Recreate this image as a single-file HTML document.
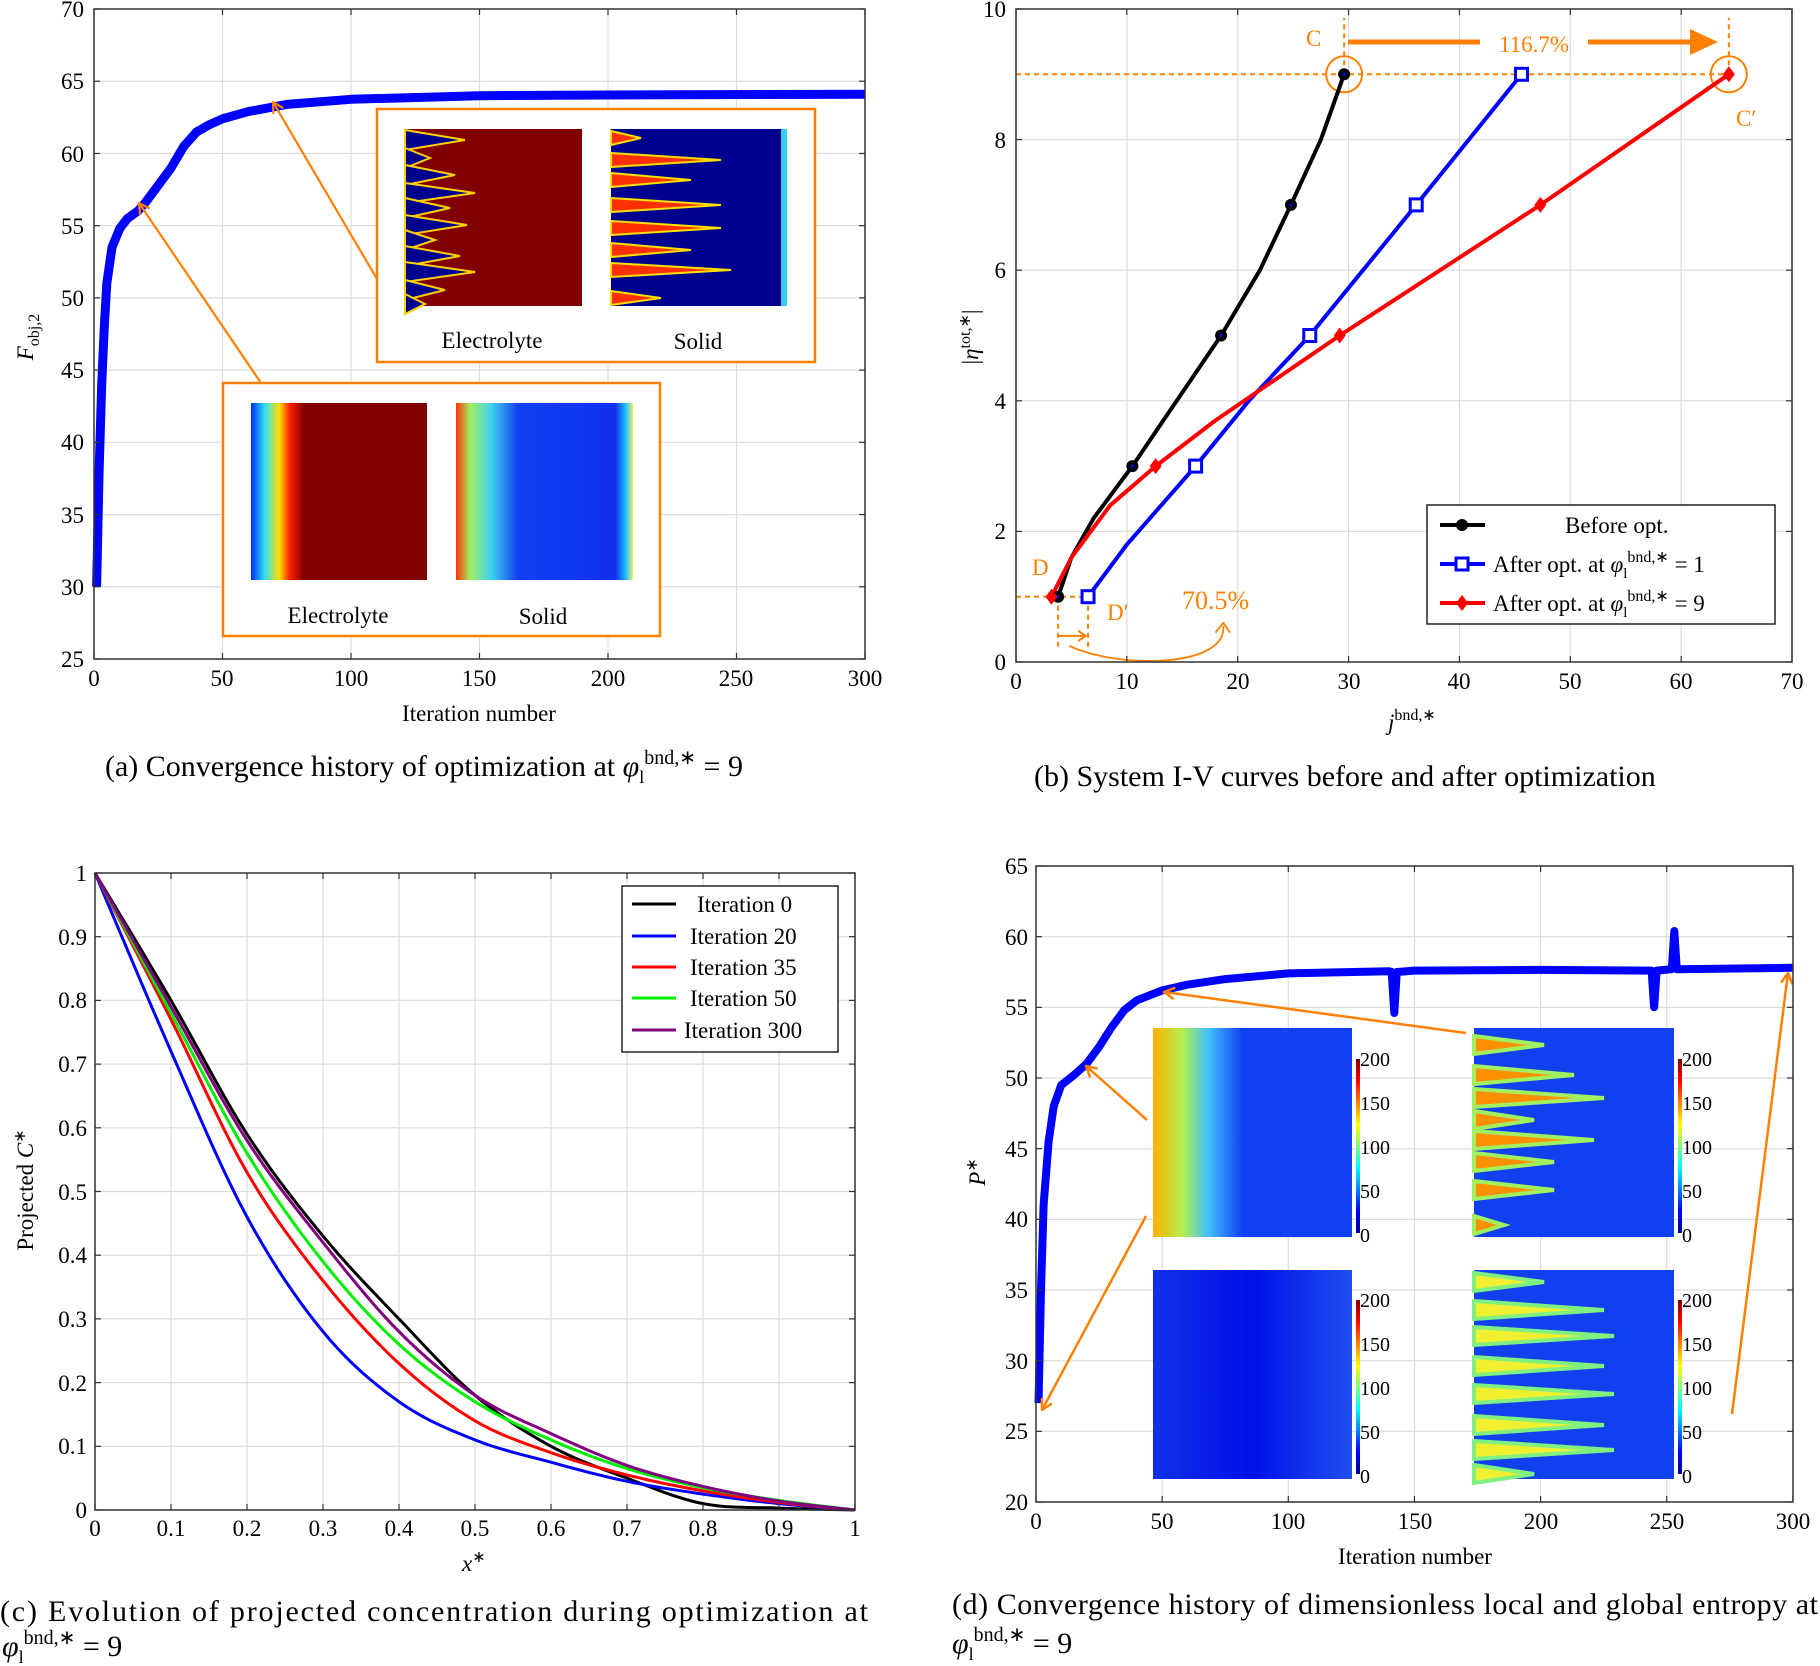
<!DOCTYPE html>
<html><head><meta charset="utf-8"><style>
html,body{margin:0;padding:0;background:#fff;}
svg{display:block;}
text{font-family:"Liberation Serif",serif;fill:#000;}
.t{font-size:23px;}
.cb{font-family:"Liberation Sans",sans-serif;font-size:20px;}
.cap{font-size:30px;}
.or text{fill:#ff8000;}
</style></head><body>
<svg id="s" width="1820" height="1666" viewBox="0 0 1820 1666" xmlns="http://www.w3.org/2000/svg">
<defs>
<linearGradient id="jet" x1="0" y1="1" x2="0" y2="0">
<stop offset="0" stop-color="#00008f"/><stop offset="0.125" stop-color="#0000ff"/><stop offset="0.375" stop-color="#00ffff"/><stop offset="0.625" stop-color="#ffff00"/><stop offset="0.875" stop-color="#ff0000"/><stop offset="1" stop-color="#800000"/>
</linearGradient>
<linearGradient id="solidL" x1="0" y1="0" x2="1" y2="0">
<stop offset="0" stop-color="#ff3000"/><stop offset="0.08" stop-color="#a0f060"/><stop offset="0.2" stop-color="#40d0f0"/><stop offset="0.35" stop-color="#1040f0"/><stop offset="0.9" stop-color="#1030f0"/><stop offset="0.96" stop-color="#20c0ff"/><stop offset="1" stop-color="#f0f060"/>
</linearGradient>
<linearGradient id="entL" x1="0" y1="0" x2="1" y2="0">
<stop offset="0" stop-color="#ffb000"/><stop offset="0.15" stop-color="#b0f050"/><stop offset="0.28" stop-color="#40c0ff"/><stop offset="0.45" stop-color="#1040f0"/><stop offset="1" stop-color="#1040f0"/>
</linearGradient>
<linearGradient id="ent0" x1="0" y1="0" x2="1" y2="0">
<stop offset="0" stop-color="#1030e8"/><stop offset="0.5" stop-color="#0010e8"/><stop offset="1" stop-color="#2050f0"/>
</linearGradient>
<linearGradient id="elL" x1="0" y1="0" x2="1" y2="0">
<stop offset="0" stop-color="#0030ff"/><stop offset="0.08" stop-color="#30e0f0"/><stop offset="0.16" stop-color="#ffe000"/><stop offset="0.22" stop-color="#ff2000"/><stop offset="0.3" stop-color="#800000"/>
</linearGradient>
</defs>
<g id="g"></g>

<!-- Panel a texts -->
<g class="t" text-anchor="end">
<text x="84" y="667">25</text><text x="84" y="595">30</text><text x="84" y="523">35</text><text x="84" y="450">40</text><text x="84" y="378">45</text><text x="84" y="306">50</text><text x="84" y="234">55</text><text x="84" y="162">60</text><text x="84" y="89">65</text><text x="84" y="17">70</text>
</g>
<g class="t" text-anchor="middle">
<text x="94" y="686">0</text><text x="222" y="686">50</text><text x="351" y="686">100</text><text x="479" y="686">150</text><text x="608" y="686">200</text><text x="736" y="686">250</text><text x="865" y="686">300</text>
<text x="479" y="721">Iteration number</text>
<text x="492" y="348">Electrolyte</text><text x="698" y="349">Solid</text>
<text x="338" y="623">Electrolyte</text><text x="543" y="624">Solid</text>
</g>
<text class="t" transform="translate(33,337) rotate(-90)" text-anchor="middle" font-style="italic">F<tspan font-style="normal" font-size="16" dy="6">obj,2</tspan></text>
<text class="cap" x="105" y="776">(a) Convergence history of optimization at <tspan font-style="italic">φ</tspan><tspan font-size="18" dy="7">l</tspan><tspan font-size="20" dy="-19">bnd,∗</tspan><tspan dy="12"> = 9</tspan></text>

<!-- Panel b texts -->
<g class="t" text-anchor="end">
<text x="1006" y="670">0</text><text x="1006" y="539">2</text><text x="1006" y="409">4</text><text x="1006" y="278">6</text><text x="1006" y="148">8</text><text x="1006" y="17">10</text>
</g>
<g class="t" text-anchor="middle">
<text x="1016" y="689">0</text><text x="1127" y="689">10</text><text x="1238" y="689">20</text><text x="1349" y="689">30</text><text x="1459" y="689">40</text><text x="1570" y="689">50</text><text x="1681" y="689">60</text><text x="1792" y="689">70</text>
</g>
<text class="t" x="1388" y="730" font-style="italic">j<tspan font-style="normal" font-size="16" dy="-10">bnd,∗</tspan></text>
<text class="t" transform="translate(978,337) rotate(-90)" text-anchor="middle">|<tspan font-style="italic">η</tspan><tspan font-size="16" dy="-8">tot,∗</tspan><tspan dy="8">|</tspan></text>
<text class="cap" x="1034" y="786">(b) System I-V curves before and after optimization</text>
<g class="t or" font-size="28">
<text x="1306" y="46">C</text><text x="1736" y="126">C′</text><text x="1032" y="575">D</text><text x="1107" y="620">D′</text>
<text x="1182" y="609" font-size="26">70.5%</text><text x="1534" y="52" text-anchor="middle">116.7%</text>
</g>
<g class="t">
<text x="1565" y="533">Before opt.</text>
<text x="1493" y="572">After opt. at <tspan font-style="italic">φ</tspan><tspan font-size="15" dy="6">l</tspan><tspan font-size="16" dy="-16">bnd,∗</tspan><tspan dy="10"> = 1</tspan></text>
<text x="1493" y="611">After opt. at <tspan font-style="italic">φ</tspan><tspan font-size="15" dy="6">l</tspan><tspan font-size="16" dy="-16">bnd,∗</tspan><tspan dy="10"> = 9</tspan></text>
</g>

<!-- Panel c texts -->
<g class="t" text-anchor="end">
<text x="87" y="1518">0</text><text x="87" y="1454">0.1</text><text x="87" y="1391">0.2</text><text x="87" y="1327">0.3</text><text x="87" y="1263">0.4</text><text x="87" y="1200">0.5</text><text x="87" y="1136">0.6</text><text x="87" y="1072">0.7</text><text x="87" y="1008">0.8</text><text x="87" y="945">0.9</text><text x="87" y="881">1</text>
</g>
<g class="t" text-anchor="middle">
<text x="95" y="1536">0</text><text x="171" y="1536">0.1</text><text x="247" y="1536">0.2</text><text x="323" y="1536">0.3</text><text x="399" y="1536">0.4</text><text x="475" y="1536">0.5</text><text x="551" y="1536">0.6</text><text x="627" y="1536">0.7</text><text x="703" y="1536">0.8</text><text x="779" y="1536">0.9</text><text x="855" y="1536">1</text>
</g>
<text class="t" x="462" y="1571" font-style="italic">x<tspan font-style="normal" font-size="16" dy="-9">∗</tspan></text>
<text class="t" transform="translate(33,1190) rotate(-90)" text-anchor="middle">Projected <tspan font-style="italic">C</tspan><tspan font-size="16" dy="-8">∗</tspan></text>
<g class="t">
<text x="697" y="912">Iteration 0</text><text x="690" y="944">Iteration 20</text><text x="690" y="975">Iteration 35</text><text x="690" y="1006">Iteration 50</text><text x="684" y="1038">Iteration 300</text>
</g>
<text class="cap" x="0" y="1621" textLength="868" lengthAdjust="spacing">(c) Evolution of projected concentration during optimization at</text>
<text class="cap" x="2" y="1656"><tspan font-style="italic">φ</tspan><tspan font-size="18" dy="7">l</tspan><tspan font-size="20" dy="-19">bnd,∗</tspan><tspan dy="12"> = 9</tspan></text>

<!-- Panel d texts -->
<g class="t" text-anchor="end">
<text x="1028" y="1510">20</text><text x="1028" y="1439">25</text><text x="1028" y="1369">30</text><text x="1028" y="1298">35</text><text x="1028" y="1227">40</text><text x="1028" y="1157">45</text><text x="1028" y="1086">50</text><text x="1028" y="1015">55</text><text x="1028" y="945">60</text><text x="1028" y="874">65</text>
</g>
<g class="t" text-anchor="middle">
<text x="1036" y="1529">0</text><text x="1162" y="1529">50</text><text x="1288" y="1529">100</text><text x="1415" y="1529">150</text><text x="1541" y="1529">200</text><text x="1667" y="1529">250</text><text x="1793" y="1529">300</text>
<text x="1415" y="1564">Iteration number</text>
</g>
<text class="t" transform="translate(985,1172) rotate(-90)" text-anchor="middle" font-style="italic">P<tspan font-style="normal" font-size="16" dy="-8">∗</tspan></text>
<text class="cap" x="952" y="1614" textLength="866" lengthAdjust="spacing">(d) Convergence history of dimensionless local and global entropy at</text>
<text class="cap" x="952" y="1653"><tspan font-style="italic">φ</tspan><tspan font-size="18" dy="7">l</tspan><tspan font-size="20" dy="-19">bnd,∗</tspan><tspan dy="12"> = 9</tspan></text>
<g class="cb">
<text x="1360" y="1066">200</text><text x="1360" y="1110">150</text><text x="1360" y="1154">100</text><text x="1360" y="1198">50</text><text x="1360" y="1242">0</text>
<text x="1682" y="1066">200</text><text x="1682" y="1110">150</text><text x="1682" y="1154">100</text><text x="1682" y="1198">50</text><text x="1682" y="1242">0</text>
<text x="1360" y="1307">200</text><text x="1360" y="1351">150</text><text x="1360" y="1395">100</text><text x="1360" y="1439">50</text><text x="1360" y="1483">0</text>
<text x="1682" y="1307">200</text><text x="1682" y="1351">150</text><text x="1682" y="1395">100</text><text x="1682" y="1439">50</text><text x="1682" y="1483">0</text>
</g>
</svg>
<script>
(function(){
var g=document.getElementById('g'),h='';
function L(x1,y1,x2,y2,c,w,extra){h+='<line x1="'+x1+'" y1="'+y1+'" x2="'+x2+'" y2="'+y2+'" stroke="'+c+'" stroke-width="'+w+'" '+(extra||'')+'/>';}
function P(pts,c,w,extra){h+='<polyline fill="none" stroke="'+c+'" stroke-width="'+w+'" stroke-linejoin="round" points="'+pts.map(function(p){return p[0].toFixed(1)+','+p[1].toFixed(1)}).join(' ')+'" '+(extra||'')+'/>';}
function R(x,y,w,hh,f,extra){h+='<rect x="'+x+'" y="'+y+'" width="'+w+'" height="'+hh+'" fill="'+f+'" '+(extra||'')+'/>';}
function grid(x0,x1,y0,y1,xs,ys){xs.forEach(function(x){L(x,y0,x,y1,'#dcdcdc',1.2);});ys.forEach(function(y){L(x0,y,x1,y,'#dcdcdc',1.2);});}
function box(x0,x1,y0,y1,xs,ys){h+='<rect x="'+x0+'" y="'+y0+'" width="'+(x1-x0)+'" height="'+(y1-y0)+'" fill="none" stroke="#333" stroke-width="1.5"/>';
 xs.forEach(function(x){L(x,y1,x,y1-6,'#333',1.2);L(x,y0,x,y0+6,'#333',1.2);});ys.forEach(function(y){L(x0,y,x0+6,y,'#333',1.2);L(x1,y,x1-6,y,'#333',1.2);});}
function arrow(x1,y1,x2,y2,c,w){L(x1,y1,x2,y2,c,w);var a=Math.atan2(y2-y1,x2-x1),s=12;
 P([[x2-s*Math.cos(a-0.5),y2-s*Math.sin(a-0.5)],[x2,y2],[x2-s*Math.cos(a+0.5),y2-s*Math.sin(a+0.5)]],c,w);}
// ===== Panel a
var ax=function(v){return 94+2.57*v},ay=function(v){return 659-14.444*(v-25)};
var xa=[0,50,100,150,200,250,300].map(ax),ya=[25,30,35,40,45,50,55,60,65,70].map(ay);
grid(94,865,9,659,xa,ya);
var ca=[[1,30],[2,38],[3,44],[4,48],[5,51],[7,53.5],[10,54.8],[13,55.5],[17,56],[20,56.6],[25,57.8],[30,59],[35,60.5],[40,61.5],[45,62],[50,62.4],[60,62.9],[75,63.4],[100,63.75],[150,64],[200,64.05],[300,64.1]];
P(ca.map(function(p){return [ax(p[0]),ay(p[1])]}),'#0000ff',9);
// insets a
R(377,109,438,253,'#fff','stroke="#ff8000" stroke-width="2.5"');
R(405,129,177,177,'#800000');
var sp='';[[140,60],[158,25],[175,50],[193,70],[208,45],[225,62],[240,30],[256,55],[272,70],[290,40],[304,20]].forEach(function(p){sp+='<polygon points="405,'+(p[0]-10)+' '+(405+p[1])+','+p[0]+' 405,'+(p[0]+10)+'" fill="#00008f" stroke="#ffd000" stroke-width="2"/>';});h+=sp;
R(611,129,176,177,'#00008f');
[[138,30],[160,110],[180,80],[205,110],[228,110],[250,80],[270,120],[298,50]].forEach(function(p){h+='<polygon points="611,'+(p[0]-7)+' '+(611+p[1])+','+p[0]+' 611,'+(p[0]+7)+'" fill="#ff3000" stroke="#ffe000" stroke-width="2"/>';});
R(781,129,6,177,'#30d0f0');
R(223,383,437,253,'#fff','stroke="#ff8000" stroke-width="2.5"');
R(251,403,176,177,'url(#elL)');
R(456,403,177,177,'url(#solidL)');
arrow(261,383,139,203,'#ff8000',2.2);arrow(377,279,273,102,'#ff8000',2.2);
box(94,865,9,659,xa,ya);
// ===== Panel b
var bx=function(v){return 1016+11.086*v},by=function(v){return 662-65.3*v};
var xb=[0,10,20,30,40,50,60,70].map(bx),yb=[0,2,4,6,8,10].map(by);
grid(1016,1792,9,662,xb,yb);
var O='#ff8000',da='stroke-dasharray="5,4"';
L(1016,by(9),bx(64.3),by(9),O,2,da);L(1016,by(1),bx(6.5),by(1),O,2,da);
L(bx(29.6),by(9),bx(29.6),18,O,2,da);L(bx(64.3),by(9),bx(64.3),18,O,2,da);
L(bx(3.8),by(1),bx(3.8),by(0.18),O,2,da);L(bx(6.5),by(1),bx(6.5),by(0.18),O,2,da);
L(bx(3.8),by(0.4),bx(6.2),by(0.4),O,2);P([[bx(5.6),by(0.48)],[bx(6.3),by(0.4)],[bx(5.6),by(0.32)]],O,2);
h+='<path d="M'+bx(4.8)+','+by(0.25)+' C'+bx(9)+','+by(-0.1)+' '+bx(19)+','+by(-0.1)+' '+bx(18.7)+','+by(0.55)+'" fill="none" stroke="'+O+'" stroke-width="1.8"/>';
P([[bx(18)+0,by(0.45)],[bx(18.7),by(0.6)],[bx(19.3),by(0.45)]],O,1.8);
L(1348,42,1480,42,O,5);L(1588,42,1690,42,O,5);h+='<polygon points="1690,29 1718,42 1690,55" fill="'+O+'"/>';
h+='<circle cx="'+bx(29.6)+'" cy="'+by(9)+'" r="18" fill="none" stroke="'+O+'" stroke-width="2"/>';
h+='<circle cx="'+bx(64.3)+'" cy="'+by(9)+'" r="18" fill="none" stroke="'+O+'" stroke-width="2"/>';
var blk=[[3.8,1],[5,1.6],[7,2.2],[10.5,3],[14.5,4],[18.5,5],[22,6],[24.8,7],[27.5,8],[29.6,9]];
var blu=[[6.5,1],[10,1.8],[16.2,3],[21,4],[26.5,5],[36.1,7],[45.6,9]];
var red=[[3.2,1],[5,1.6],[8.5,2.4],[12.6,3],[18,3.7],[29.2,5],[47.3,7],[64.3,9]];
function mp(a){return a.map(function(p){return [bx(p[0]),by(p[1])]})}
P(mp(blk),'#000',4);P(mp(blu),'#0000ff',4);P(mp(red),'#ff0000',4);
[[3.8,1],[10.5,3],[18.5,5],[24.8,7],[29.6,9]].forEach(function(p){h+='<circle cx="'+bx(p[0])+'" cy="'+by(p[1])+'" r="6" fill="#000"/><circle cx="'+bx(p[0])+'" cy="'+by(p[1])+'" r="1.6" fill="#00f"/>';});
[[6.5,1],[16.2,3],[26.5,5],[36.1,7],[45.6,9]].forEach(function(p){R(bx(p[0])-6,by(p[1])-6,12,12,'#fff','stroke="#00f" stroke-width="3"');});
[[3.2,1],[12.6,3],[29.2,5],[47.3,7],[64.3,9]].forEach(function(p){var x=bx(p[0]),y=by(p[1]);h+='<polygon points="'+x+','+(y-8)+' '+(x+6)+','+y+' '+x+','+(y+8)+' '+(x-6)+','+y+'" fill="#f00"/>';});
R(1427,505,348,119,'#fff','stroke="#222" stroke-width="1.5"');
L(1440,525,1485,525,'#000',4);h+='<circle cx="1462" cy="525" r="6" fill="#000"/>';
L(1440,564,1485,564,'#00f',4);R(1456,558,12,12,'#fff','stroke="#00f" stroke-width="3"');
L(1440,603,1485,603,'#f00',4);h+='<polygon points="1462,595 1468,603 1462,611 1456,603" fill="#f00"/>';
box(1016,1792,9,662,xb,yb);
// ===== Panel c
var cx=function(v){return 95+760*v},cy=function(v){return 1510-637*v};
var xc=[],yc=[];for(var i=0;i<=10;i++){xc.push(cx(i/10));yc.push(cy(i/10));}
grid(95,855,873,1510,xc,yc);
function sm(a){var o=[];for(var i=0;i<a.length-1;i++){for(var t=0;t<1;t+=0.1){var p0=a[Math.max(i-1,0)],p1=a[i],p2=a[i+1],p3=a[Math.min(i+2,a.length-1)];
 var t2=t*t,t3=t2*t;var f=function(k){return 0.5*((2*p1[k])+(-p0[k]+p2[k])*t+(2*p0[k]-5*p1[k]+4*p2[k]-p3[k])*t2+(-p0[k]+3*p1[k]-3*p2[k]+p3[k])*t3)};o.push([f(0),f(1)]);}}o.push(a[a.length-1]);return o;}
function cc(ys,col){var a=ys.map(function(v,i){return [cx(i/10),cy(v)]});P(sm(a),col,3);}
cc([1,.8,.59,.43,.3,.18,.1,.05,.01,.003,0],'#000');
cc([1,.72,.46,.28,.17,.11,.075,.045,.025,.01,0],'#0000ff');
cc([1,.77,.53,.36,.23,.14,.09,.055,.03,.012,0],'#ff0000');
cc([1,.78,.56,.39,.26,.17,.11,.065,.035,.015,0],'#00ee00');
cc([1,.79,.58,.42,.28,.18,.12,.07,.037,.014,0],'#800080');
R(622,886,216,166,'#fff','stroke="#222" stroke-width="1.5"');
[['#000',904],['#00f',936],['#f00',967],['#0e0',998],['#800080',1030]].forEach(function(e){L(632,e[1],676,e[1],e[0],3);});
box(95,855,873,1510,xc,yc);
// ===== Panel d
var dx=function(v){return 1036+2.523*v},dy=function(v){return 1502-14.133*(v-20)};
var xd=[0,50,100,150,200,250,300].map(dx),yd=[20,25,30,35,40,45,50,55,60,65].map(dy);
grid(1036,1793,866,1502,xd,yd);
var cd=[[1,27],[2,35],[3,41],[5,45.5],[7,48],[10,49.5],[15,50.2],[20,51],[25,52.2],[30,53.6],[35,54.8],[40,55.5],[50,56.2],[60,56.6],[75,57],[100,57.4],[140,57.55],[141,57.5],[142,54.6],[143,57.5],[150,57.6],[200,57.65],[244,57.6],[245,55],[246,57.6],[252,57.7],[253,60.4],[254,57.7],[300,57.8]];
P(cd.map(function(p){return [dx(p[0]),dy(p[1])]}),'#0000ff',8,'stroke-linejoin="miter"');
R(1153,1028,199,209,'url(#entL)');
R(1474,1028,200,209,'#1040f0');
[[1045,70],[1075,100],[1098,130],[1120,60],[1140,120],[1162,80],[1190,80],[1225,30]].forEach(function(p){h+='<polygon points="1474,'+(p[0]-9)+' '+(1474+p[1])+','+p[0]+' 1474,'+(p[0]+9)+'" fill="#ff9000" stroke="#a0f060" stroke-width="4"/>';});
R(1153,1270,199,209,'url(#ent0)');
R(1474,1270,200,209,'#1040f0');
[[1282,70],[1310,130],[1336,140],[1366,130],[1394,140],[1425,130],[1450,140],[1474,60]].forEach(function(p){h+='<polygon points="1474,'+(p[0]-9)+' '+(1474+p[1])+','+p[0]+' 1474,'+(p[0]+9)+'" fill="#f0f030" stroke="#80f080" stroke-width="4"/>';});
[[1356,1059],[1678,1059],[1356,1300],[1678,1300]].forEach(function(p){R(p[0],p[1],4,174,'url(#jet)');});
arrow(1147,1120,1086,1066,O,2.5);arrow(1146,1216,1042,1410,O,2.5);arrow(1466,1033,1164,992,O,2.5);arrow(1732,1414,1788,973,O,2.5);
box(1036,1793,866,1502,xd,yd);
g.innerHTML=h;
})();
</script>
</body></html>
